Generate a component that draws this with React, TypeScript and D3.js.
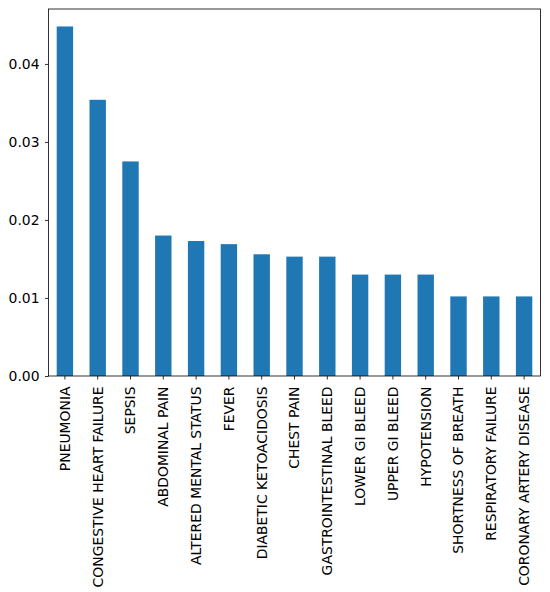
import { useRef, useEffect } from "react";
import * as d3 from "d3";

const categories = [
  "PNEUMONIA",
  "CONGESTIVE HEART FAILURE",
  "SEPSIS",
  "ABDOMINAL PAIN",
  "ALTERED MENTAL STATUS",
  "FEVER",
  "DIABETIC KETOACIDOSIS",
  "CHEST PAIN",
  "GASTROINTESTINAL BLEED",
  "LOWER GI BLEED",
  "UPPER GI BLEED",
  "HYPOTENSION",
  "SHORTNESS OF BREATH",
  "RESPIRATORY FAILURE",
  "CORONARY ARTERY DISEASE",
];
const values = [
  0.0448, 0.0354, 0.0275, 0.0180, 0.0173, 0.0169, 0.0156, 0.0153, 0.0153,
  0.0130, 0.0130, 0.0130, 0.0102, 0.0102, 0.0102,
];
const yTicks = [0, 0.01, 0.02, 0.03, 0.04];

export default function App() {
  const svgRef = useRef<SVGSVGElement>(null);

  useEffect(() => {
    if (!svgRef.current) return;
    const svg = d3.select(svgRef.current);
    svg.selectAll("*").remove();

    const W = 550, H = 592;
    const margin = { top: 9, right: 9.5, bottom: 216, left: 48.5 };
    const width = W - margin.left - margin.right;
    const height = H - margin.top - margin.bottom;
    const font = "DejaVu Sans, sans-serif";
    const fs = 13.9;

    svg.attr("width", W).attr("height", H);
    const g = svg.append("g").attr("transform", `translate(${margin.left},${margin.top})`);

    const x = d3.scaleBand().domain(categories).range([0, width]).paddingInner(0.5).paddingOuter(0.25);
    const yMax = d3.max(values)! * 1.05;
    const y = d3.scaleLinear().domain([0, yMax]).range([height, 0]);

    g.selectAll("rect.bar").data(values).enter().append("rect")
      .attr("class", "bar")
      .attr("x", (_, i) => x(categories[i])!)
      .attr("width", x.bandwidth())
      .attr("y", d => y(d))
      .attr("height", d => height - y(d))
      .attr("fill", "#1f77b4");

    // y axis
    g.append("g")
      .call(d3.axisLeft(y).tickValues(yTicks).tickFormat(d3.format(".2f")).tickSize(3.5).tickPadding(5.5))
      .call(a => {
        a.select(".domain").remove();
        a.selectAll("line").attr("stroke", "#000").attr("stroke-width", 0.8);
        a.selectAll("text").attr("fill", "#000").attr("font-size", fs).attr("font-family", font);
      });

    // x axis
    g.append("g").attr("transform", `translate(0,${height})`)
      .call(d3.axisBottom(x).tickSize(3.5).tickPadding(0))
      .call(a => {
        a.select(".domain").remove();
        a.selectAll("line").attr("stroke", "#000").attr("stroke-width", 0.8);
        a.selectAll("text")
          .attr("fill", "#000").attr("font-size", fs).attr("font-family", font)
          .attr("transform", "rotate(-90)")
          .attr("text-anchor", "end")
          .attr("x", -10.5).attr("y", 0).attr("dy", "0.35em");
      });

    // frame
    g.append("rect")
      .attr("x", 0).attr("y", 0).attr("width", width).attr("height", height)
      .attr("fill", "none").attr("stroke", "#000").attr("stroke-width", 0.8);
  }, []);

  return (
    <div style={{ position: "absolute", left: 0, top: 0, width: 550, height: 592, background: "#fff" }}>
      <svg ref={svgRef} style={{ display: "block" }} />
    </div>
  );
}
